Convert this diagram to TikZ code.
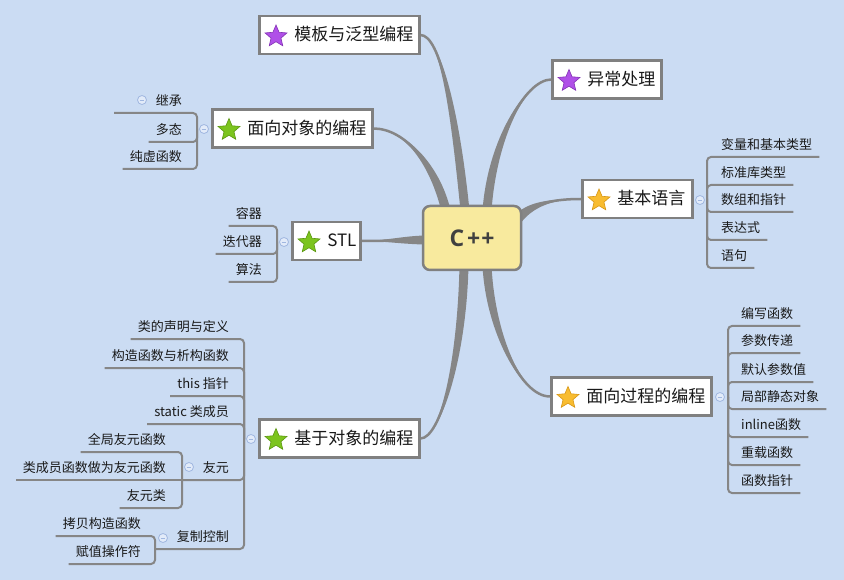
\documentclass[tikz,border=0pt]{standalone}
\usepackage{fontspec}
\setmainfont{Noto Sans CJK SC}
\newfontfamily\cppfont{Open Sans}
\usetikzlibrary{calc,shapes.geometric}
\pgfdeclarelayer{back}
\pgfsetlayers{back,main}
\definecolor{bg}{RGB}{203,220,243}
\definecolor{branchc}{RGB}{134,134,134}
\definecolor{boxc}{RGB}{128,128,128}
\definecolor{cppfill}{RGB}{248,234,158}
\definecolor{purp}{RGB}{176,80,232}
\definecolor{purpd}{RGB}{130,50,180}
\definecolor{grn}{RGB}{124,196,30}
\definecolor{grnd}{RGB}{90,150,15}
\definecolor{gold}{RGB}{248,188,48}
\definecolor{goldd}{RGB}{215,150,20}
\definecolor{cfill}{RGB}{226,235,249}
\definecolor{cline}{RGB}{160,183,224}
\definecolor{txt}{RGB}{25,25,25}
\definecolor{cpptxt}{RGB}{64,64,64}
\newcommand{\mainsz}{\fontsize{17}{20}\selectfont}
\newcommand{\childsz}{\fontsize{13}{16}\selectfont}
% tapered branch: start, control 1, control 2, end, half-width offset at end
\newcommand{\mybranch}[5]{%
  \fill[branchc] (#1) .. controls (#2) and ($(#3)+(#5)$) .. ($(#4)+(#5)$)
     -- ($(#4)-(#5)$) .. controls ($(#3)-(#5)$) and (#2) .. (#1) -- cycle;
  \draw[branchc, line width=2.5pt] (#1) .. controls (#2) and (#3) .. (#4);}
\begin{document}
\begin{tikzpicture}[x=1pt,y=-1pt,
  mainbox/.style={draw=boxc, line width=2.5pt, fill=white, minimum height=38pt,
     inner xsep=0pt, inner ysep=0pt, text height=14pt, text depth=2pt, font=\mainsz, text=txt, anchor=west},
  cppbox/.style={draw=boxc, line width=2.5pt, fill=cppfill, rounded corners=7pt,
     minimum width=98pt, minimum height=64pt, inner sep=0pt, text=cpptxt,
     font=\cppfont\bfseries\fontsize{23}{27}\selectfont},
  starS/.style={star, star points=5, star point ratio=2.2, minimum size=23pt,
     inner sep=0pt, line width=0.6pt},
  child/.style={font=\childsz, text=txt, inner xsep=7pt, inner ysep=4pt,
     text height=10pt, text depth=3pt},
  sub/.style={draw=branchc, line width=2pt, rounded corners=4pt},
  collapse/.style={circle, minimum size=9pt, inner sep=0pt, fill=cfill, draw=cline,
     line width=0.8pt, path picture={\draw[cline, line width=0.9pt]
       ([xshift=-2.3pt]path picture bounding box.center) --
       ([xshift=2.3pt]path picture bounding box.center);}}
]
\begin{pgfonlayer}{back}
  \fill[bg] (0,0) rectangle (844,580);
\end{pgfonlayer}
\useasboundingbox (0,0) rectangle (844,580);

% central topic
\node[cppbox] (cpp) at (472,238) {C\kern3pt+\kern1pt+};

% main topics
\node[mainbox] (tmpl)  at (258,35)    {\hspace*{35pt}模板与泛型编程\hspace*{6pt}};
\node[mainbox] (exc)   at (551,79.5)  {\hspace*{35pt}异常处理\hspace*{6pt}};
\node[mainbox] (oop)   at (211,128.5) {\hspace*{35pt}面向对象的编程\hspace*{6pt}};
\node[mainbox] (basic) at (581,199)   {\hspace*{35pt}基本语言\hspace*{7pt}};
\node[mainbox] (stl)   at (291,241)   {\hspace*{35pt}STL\hspace*{4pt}};
\node[mainbox] (proc)  at (550,396.5) {\hspace*{35pt}面向过程的编程\hspace*{6pt}};
\node[mainbox] (obj)   at (258,438.5) {\hspace*{35pt}基于对象的编程\hspace*{6pt}};

% stars
\node[starS, fill=purp, draw=purpd] (st1) at ($(tmpl.west)+(18,1.5)$) {};
\node[starS, fill=purp, draw=purpd] (st2) at ($(exc.west)+(18,1.5)$) {};
\node[starS, fill=grn, draw=grnd]   (st3) at ($(oop.west)+(18,1.5)$) {};
\node[starS, fill=gold, draw=goldd] (st4) at ($(basic.west)+(18,1.5)$) {};
\node[starS, fill=grn, draw=grnd]   (st5) at ($(stl.west)+(18,1.5)$) {};
\node[starS, fill=gold, draw=goldd] (st6) at ($(proc.west)+(18,1.5)$) {};
\node[starS, fill=grn, draw=grnd]   (st7) at ($(obj.west)+(18,1.5)$) {};

% tapered branches
\coordinate (q1) at ($(cpp.north)+(-7,6)$);
\coordinate (q2) at ($(cpp.north)+(-26,6)$);
\coordinate (q3) at ($(cpp.north)+(15,6)$);
\coordinate (q4) at ($(cpp.east)+(-5,-18)$);
\coordinate (q5) at ($(cpp.west)+(6,2)$);
\coordinate (q6) at ($(cpp.south)+(15,-6)$);
\coordinate (q7) at ($(cpp.south)+(-8,-6)$);
\begin{pgfonlayer}{back}
  \mybranch{tmpl.east}{440,35}{455,110}{q1}{4.5,0}
  \mybranch{oop.east}{405,128.5}{435,165}{q2}{4.5,-1}
  \mybranch{exc.west}{525,80}{492,140}{q3}{4.5,0}
  \mybranch{basic.west}{555,199}{530,203}{q4}{3.5,3}
  \mybranch{stl.east}{385,241}{405,240}{q5}{0,4.5}
  \mybranch{proc.west}{520,396.5}{490,330}{q6}{4.5,0}
  \mybranch{obj.east}{440,438.5}{462,360}{q7}{4.5,0}
\end{pgfonlayer}

% basic children
\coordinate (bj) at (707,199);
\node[child,anchor=south west] (b1) at (714,157) {变量和基本类型};
\node[child,anchor=south west] (b2) at (714,185) {标准库类型};
\node[child,anchor=south west] (b3) at (714,212) {数组和指针};
\node[child,anchor=south west] (b4) at (714,240) {表达式};
\node[child,anchor=south west] (b5) at (714,268) {语句};
\foreach \n in {b1,b2,b3,b4,b5} \draw[sub] (bj) |- (\n.south east);

% procedural children
\coordinate (pj) at (728,397);
\node[child,anchor=south west] (p1) at (734,326) {编写函数};
\node[child,anchor=south west] (p2) at (734,353) {参数传递};
\node[child,anchor=south west] (p3) at (734,382) {默认参数值};
\node[child,anchor=south west] (p4) at (734,409) {局部静态对象};
\node[child,anchor=south west] (p5) at (734,437) {inline函数};
\node[child,anchor=south west] (p6) at (734,465) {重载函数};
\node[child,anchor=south west] (p7) at (734,493) {函数指针};
\foreach \n in {p1,p2,p3,p4,p5,p6,p7} \draw[sub] (pj) |- (\n.south east);

% OOP children
\coordinate (oj) at (197,129);
\coordinate (o1end) at (114,113);
\node[child,anchor=south east] (o1) at (189,113) {继承};
\node[child,anchor=south east] (o2) at (189,142) {多态};
\node[child,anchor=south east] (o3) at (189,169) {纯虚函数};
\draw[sub] (oj) |- (o1end);
\foreach \n in {o2,o3} \draw[sub] (oj) |- (\n.south west);

% STL children
\coordinate (sj) at (277,242);
\node[child,anchor=south east] (t1) at (269,226) {容器};
\node[child,anchor=south east] (t2) at (269,254) {迭代器};
\node[child,anchor=south east] (t3) at (269,282) {算法};
\foreach \n in {t1,t2,t3} \draw[sub] (sj) |- (\n.south west);

% object-based children
\coordinate (ej) at (244,439);
\node[child,anchor=south east] (e1) at (236,339) {类的声明与定义};
\node[child,anchor=south east] (e2) at (236,368) {构造函数与析构函数};
\node[child,anchor=south east] (e3) at (236,396) {this 指针};
\node[child,anchor=south east] (e4) at (236,424) {static 类成员};
\node[child,anchor=south east] (e5) at (236,480) {友元};
\node[child,anchor=south east] (e6) at (236,549) {复制控制};
\foreach \n in {e1,e2,e3,e4} \draw[sub] (ej) |- (\n.south west);
\coordinate (fj) at (182,480);
\coordinate (cj) at (155,549);
\draw[sub] (ej) |- (fj);
\draw[sub] (ej) |- (cj);

% friend children
\node[child,anchor=south east] (f1) at (173,452) {全局友元函数};
\node[child,anchor=south east] (f2) at (173,480) {类成员函数做为友元函数};
\node[child,anchor=south east] (f3) at (173,508) {友元类};
\draw[sub] (fj) |- (f1.south west);
\draw[sub] (fj) -- (f2.south west);
\draw[sub] (fj) |- (f3.south west);

% copy-control children
\node[child,anchor=south east] (c1) at (148,536) {拷贝构造函数};
\node[child,anchor=south east] (c2) at (148,564) {赋值操作符};
\draw[sub] (cj) |- (c1.south west);
\draw[sub] (cj) |- (c2.south west);

% collapse markers
\node[collapse] (k1) at (700,200) {};
\node[collapse] (k2) at (720,397) {};
\node[collapse] (k3) at (204,129) {};
\node[collapse] (k4) at (284,242) {};
\node[collapse] (k5) at (251,439) {};
\node[collapse] (k6) at (189,467) {};
\node[collapse] (k7) at (163,538) {};
\node[collapse] (k8) at (142,100) {};
\end{tikzpicture}
\end{document}
